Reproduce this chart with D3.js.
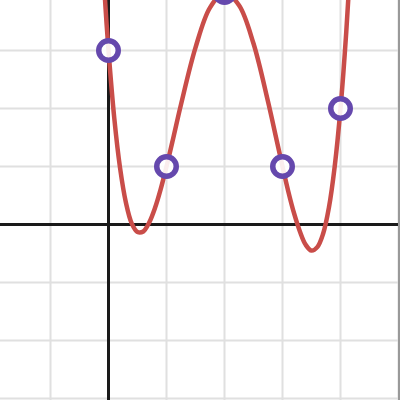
<!DOCTYPE html>
<html>
<head>
<meta charset="utf-8">
<script src="https://cdn.jsdelivr.net/npm/d3@7"></script>
<style>
  html, body { margin: 0; padding: 0; background: #fff; }
  svg { display: block; }
</style>
</head>
<body>
<svg id="chart"></svg>
<script>
// grid ticks
const gridX = [-1, 0, 1, 2, 3, 4, 5];
const gridY = [-3, -2, -1, 0, 1, 2, 3];

// the marked points
const pointX = [0, 1, 2, 3, 4];
const pointY = [3, 1, 4, 1, 2];

// curve samples
const curveX = [-0.1, -0.05, 0, 0.1, 0.2, 0.3, 0.4, 0.5, 0.6, 0.7, 0.8, 0.9, 1, 1.1, 1.25, 1.5, 1.75, 2,
                2.25, 2.5, 2.75, 2.9, 3, 3.1, 3.2, 3.3, 3.4, 3.5, 3.6, 3.7, 3.8, 3.9, 4, 4.1, 4.2];
const curveY = [4.53, 3.72, 3, 1.83, 0.97, 0.38, 0.02, -0.13, -0.12, 0.03, 0.28, 0.61, 1, 1.42, 2.07, 3.05, 3.74, 4,
                3.78, 3.12, 2.12, 1.45, 1, 0.57, 0.19, -0.12, -0.35, -0.45, -0.39, -0.16, 0.29, 1.0, 2, 3.33, 5.04];

const width = 400, height = 400;
const unit = 58;
const originX = 108.5, originY = 224.5;

const svg = d3.select("#chart")
    .attr("width", width)
    .attr("height", height);

const x = d3.scaleLinear()
    .domain([-originX / unit, (width - originX) / unit])
    .range([0, width]);
const y = d3.scaleLinear()
    .domain([-(height - originY) / unit, originY / unit])
    .range([height, 0]);

// grid lines
const grid = svg.append("g")
    .attr("stroke", "#e0e0e0")
    .attr("stroke-width", 2);
grid.selectAll("line.v")
    .data(gridX.filter(d => d !== 0))
    .join("line")
    .attr("class", "v")
    .attr("x1", d => x(d)).attr("x2", d => x(d))
    .attr("y1", 0).attr("y2", height);
grid.selectAll("line.h")
    .data(gridY.filter(d => d !== 0))
    .join("line")
    .attr("class", "h")
    .attr("y1", d => y(d)).attr("y2", d => y(d))
    .attr("x1", 0).attr("x2", width);

// axes
svg.append("line")
    .attr("x1", 0).attr("x2", width)
    .attr("y1", y(0)).attr("y2", y(0))
    .attr("stroke", "#1a1a1a").attr("stroke-width", 3);
svg.append("line")
    .attr("x1", x(0)).attr("x2", x(0))
    .attr("y1", 0).attr("y2", height)
    .attr("stroke", "#1a1a1a").attr("stroke-width", 3);

// right border of the panel
svg.append("line")
    .attr("x1", width - 1).attr("x2", width - 1)
    .attr("y1", 0).attr("y2", height)
    .attr("stroke", "#999").attr("stroke-width", 2);

// curve
const curve = curveX.map((v, i) => [v, curveY[i]]);
svg.append("path")
    .datum(curve)
    .attr("fill", "none")
    .attr("stroke", "#c94d49")
    .attr("stroke-width", 4.5)
    .attr("stroke-linejoin", "round")
    .attr("d", d3.line()
        .x(d => x(d[0]))
        .y(d => y(d[1]))
        .curve(d3.curveCatmullRom.alpha(0.5)));

// points
svg.append("g")
    .selectAll("circle")
    .data(pointX.map((v, i) => [v, pointY[i]]))
    .join("circle")
    .attr("cx", d => x(d[0]))
    .attr("cy", d => y(d[1]))
    .attr("r", 9.75)
    .attr("fill", "#fff")
    .attr("fill-opacity", 0.9)
    .attr("stroke", "#6548ad")
    .attr("stroke-width", 5.5);
</script>
</body>
</html>
